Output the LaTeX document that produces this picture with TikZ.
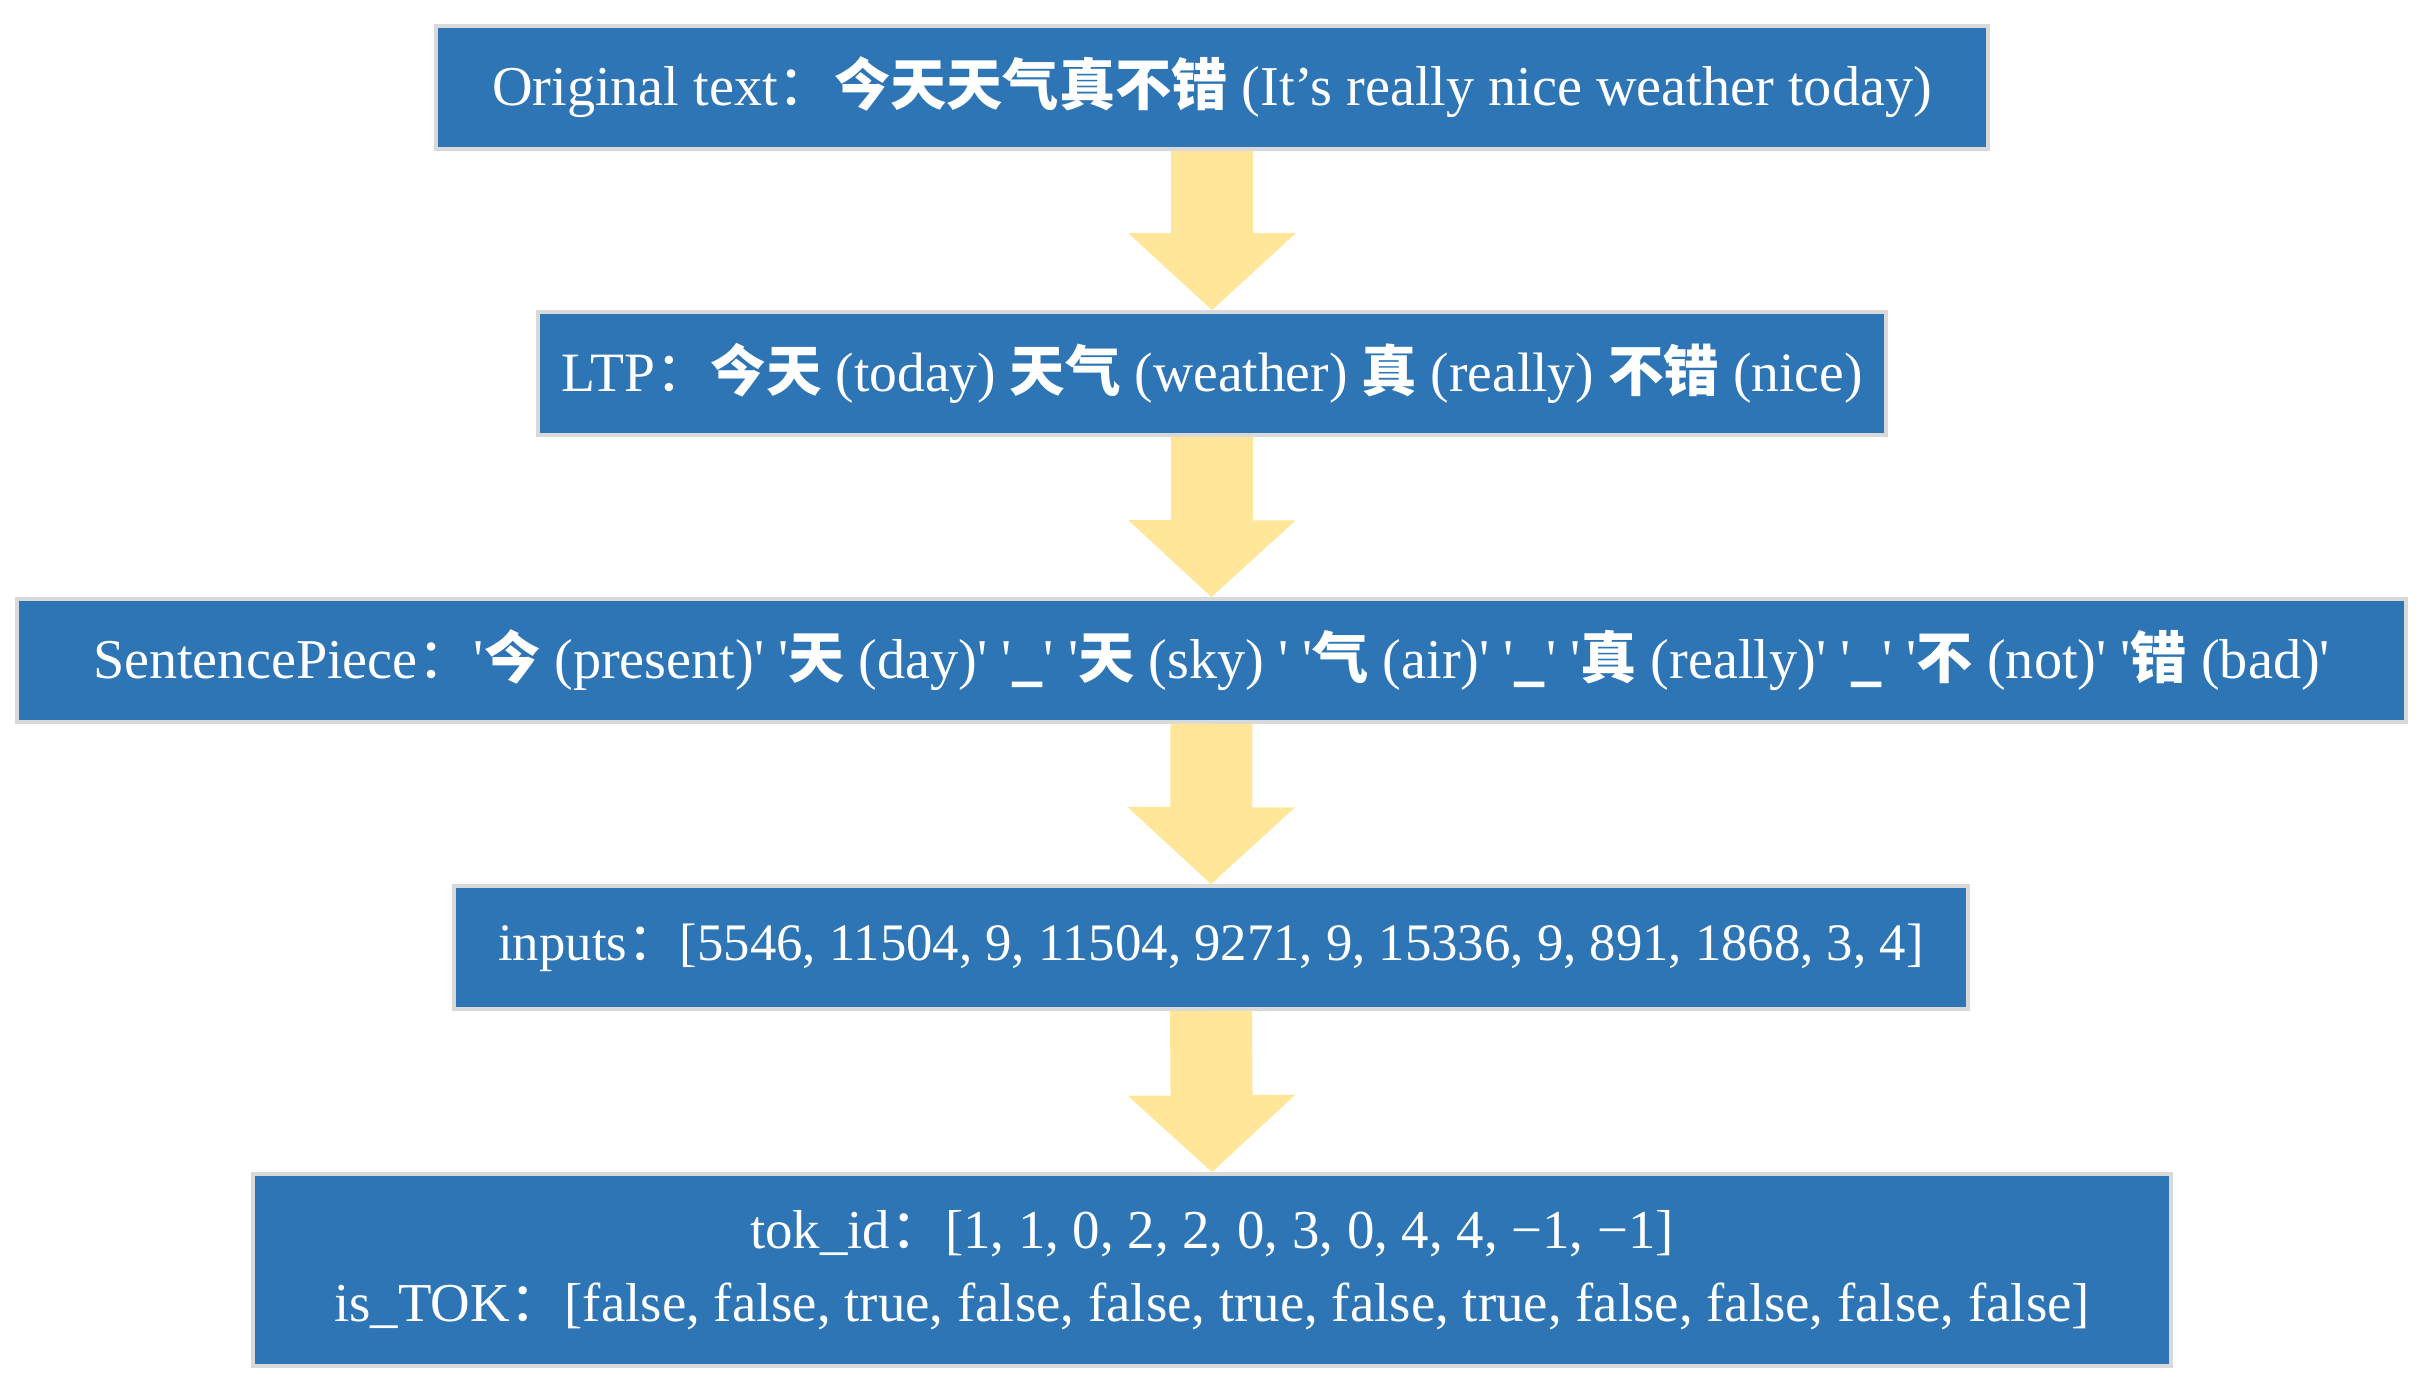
\documentclass[tikz,border=0pt]{standalone}
\usepackage{fontspec}
\setmainfont{Liberation Serif}
\newfontfamily\cjk{Noto Sans CJK SC}
\usetikzlibrary{arrows.meta}

\definecolor{boxblue}{HTML}{2E75B6}
\definecolor{arrowgold}{HTML}{FFE699}
\newcommand{\zh}[1]{{\cjk\bfseries #1}}
\newcommand{\zc}{{\cjk ：}}
\newcommand{\q}{\textquotesingle}

\begin{document}
\begin{tikzpicture}[
    stepbox/.style={rectangle, fill=boxblue, draw=black!15, line width=1pt, text=white,
      inner sep=0pt, minimum height=1.23cm, align=center, font=\fontsize{16}{21}\selectfont},
    flowarrow/.style={draw=arrowgold, line width=0.82cm, -{Triangle[width=1.63cm,length=0.77cm]}}
  ]
  \useasboundingbox (0,0) rectangle (24.32,-13.95);

  \node[stepbox, minimum width=15.52cm] (orig) at (12.12,-0.875)
    {Original text\zc\zh{今天天气真不错} (It’s really nice weather today)};
  \node[stepbox, minimum width=13.48cm, font=\fontsize{15.8}{21}\selectfont] (ltp) at (12.12,-3.735)
    {LTP\zc\zh{今天} (today) \zh{天气} (weather) \zh{真} (really) \zh{不错} (nice)};
  \node[stepbox, minimum width=23.89cm] (spiece) at (12.115,-6.605)
    {SentencePiece\zc\q\zh{今} (present)\q{} \q\zh{天} (day)\q{} \q\zh{\_}\q{} \q\zh{天} (sky) \q{} \q\zh{气} (air)\q{} \q\zh{\_}\q{} \q\zh{真} (really)\q{} \q\zh{\_}\q{} \q\zh{不} (not)\q{} \q\zh{错} (bad)\q};
  \node[stepbox, minimum width=15.14cm, font=\fontsize{15}{21}\selectfont] (inputs) at (12.11,-9.475)
    {inputs\zc[5546, 11504, 9, 11504, 9271, 9, 15336, 9, 891, 1868, 3, 4]};
  \node[stepbox, minimum width=19.18cm, minimum height=1.92cm, font=\fontsize{15.6}{20.6}\selectfont] (tokid) at (12.12,-12.70)
    {tok\_id\zc[1, 1, 0, 2, 2, 0, 3, 0, 4, 4, −1, −1]\\
     is\_TOK\zc[false, false, true, false, false, true, false, true, false, false, false, false]};

  \draw[flowarrow] (orig.south) -- (ltp.north);
  \draw[flowarrow] (ltp.south) -- (spiece.north);
  \draw[flowarrow] (spiece.south) -- (inputs.north);
  \draw[flowarrow] (inputs.south) -- (tokid.north);
\end{tikzpicture}
\end{document}
